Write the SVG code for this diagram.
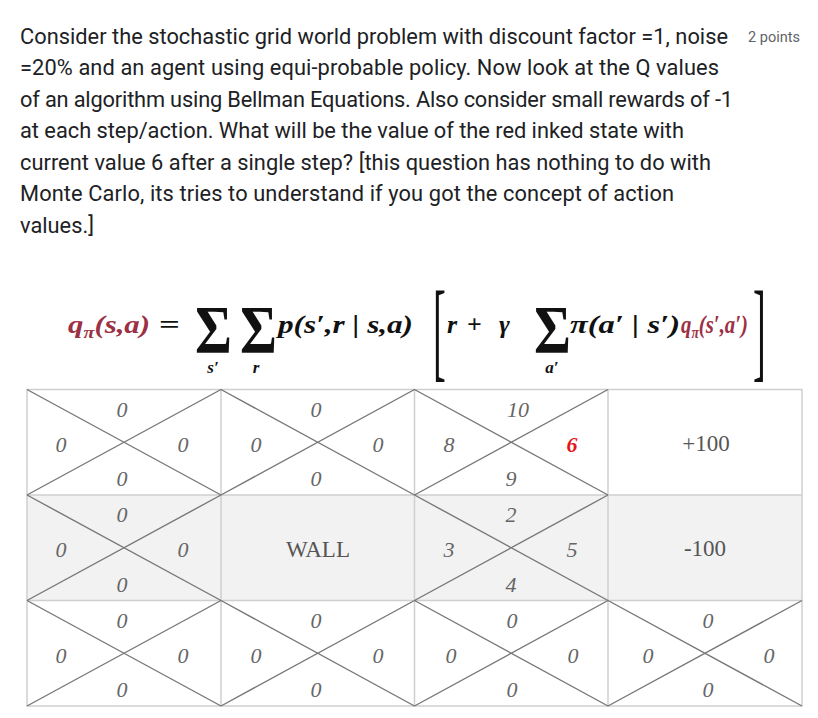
<svg xmlns="http://www.w3.org/2000/svg" width="818" height="718" viewBox="0 0 818 718">
<style>
.q{font-family:"Roboto","Liberation Sans",sans-serif;font-size:21.8px;fill:#202124}
.pts{font-family:"Roboto","Liberation Sans",sans-serif;font-size:14.5px;fill:#5f6368}
.m{font-family:"Liberation Serif","Times New Roman",serif;font-style:italic;font-weight:bold;font-size:26px;fill:#111}
.up{font-style:normal}
.mr{fill:#9c3045}
.sub{font-family:"Liberation Serif","Times New Roman",serif;font-style:italic;font-weight:bold;font-size:17px;fill:#111;text-anchor:middle}
.br{font-family:"Liberation Serif","Times New Roman",serif;font-size:110px;fill:#111}
.v{font-family:"Liberation Serif","Times New Roman",serif;font-style:italic;font-size:22px;fill:#666;text-anchor:middle}
.red{fill:#e8141b;font-weight:bold}
.lbl{font-family:"Liberation Serif","Times New Roman",serif;font-size:23px;fill:#555;text-anchor:middle}
.cell{fill:none;stroke:#cfcfcf;stroke-width:1.5}
.diag{stroke:#777;stroke-width:1.4;fill:none}
</style>
<rect width="818" height="718" fill="#fff"/>
<g id="question">
<text class="q" x="20" y="43.5" textLength="708" lengthAdjust="spacing">Consider the stochastic grid world problem with discount factor =1, noise</text>
<text class="q" x="20" y="75" textLength="699" lengthAdjust="spacing">=20% and an agent using equi-probable policy. Now look at the Q values</text>
<text class="q" x="20" y="106.5" textLength="713" lengthAdjust="spacing">of an algorithm using Bellman Equations. Also consider small rewards of -1</text>
<text class="q" x="20" y="138" textLength="664" lengthAdjust="spacing">at each step/action. What will be the value of the red inked state with</text>
<text class="q" x="20" y="169.5" textLength="691" lengthAdjust="spacing">current value 6 after a single step? [this question has nothing to do with</text>
<text class="q" x="20" y="201" textLength="654" lengthAdjust="spacing">Monte Carlo, its tries to understand if you got the concept of action</text>
<text class="q" x="20" y="232.5">values.]</text>
<text class="pts" x="748" y="42">2 points</text>
</g>
<g id="formula">
<text class="m mr" x="68" y="333" textLength="82" lengthAdjust="spacingAndGlyphs">q<tspan font-size="17" dy="5">π</tspan><tspan dy="-5">(s,a)</tspan></text>
<text class="m up" x="159" y="333" font-size="32" textLength="21" lengthAdjust="spacingAndGlyphs">=</text>
<text transform="translate(195,352) scale(0.83,1)" style="font-family:'Liberation Serif',serif;font-size:68px;font-weight:bold;fill:#111">Σ</text>
<text transform="translate(240,352) scale(0.83,1)" style="font-family:'Liberation Serif',serif;font-size:68px;font-weight:bold;fill:#111">Σ</text>
<text class="sub" x="213" y="373">s′</text>
<text class="sub" x="256" y="373">r</text>
<text class="m" x="278" y="333" textLength="135" lengthAdjust="spacingAndGlyphs">p(s′,r | s,a)</text>
<text class="br" transform="translate(433,367) scale(0.35,1)">[</text>
<text class="m" x="447" y="333">r</text>
<text class="m up" x="467" y="333" font-size="30">+</text>
<text class="m" x="499" y="333">γ</text>
<text transform="translate(534,352) scale(0.83,1)" style="font-family:'Liberation Serif',serif;font-size:68px;font-weight:bold;fill:#111">Σ</text>
<text class="sub" x="552" y="373">a′</text>
<text class="m" x="570" y="333" textLength="110" lengthAdjust="spacingAndGlyphs">π(a′ | s′)</text>
<text class="m mr" x="681" y="333" textLength="67" lengthAdjust="spacingAndGlyphs">q<tspan font-size="17" dy="5">π</tspan><tspan dy="-5">(s′,a′)</tspan></text>
<text class="br" transform="translate(753,367) scale(0.35,1)">]</text>
</g>
<rect x="27" y="495" width="775" height="105.5" fill="#f2f2f2"/>
<g id="grid-lines">
<rect class="cell" x="27" y="389.5" width="775" height="316.5"/>
<line class="cell" x1="221" y1="389.5" x2="221" y2="706"/>
<line class="cell" x1="414.5" y1="389.5" x2="414.5" y2="706"/>
<line class="cell" x1="608" y1="389.5" x2="608" y2="706"/>
<line class="cell" x1="27" y1="495" x2="802" y2="495"/>
<line class="cell" x1="27" y1="600.5" x2="802" y2="600.5"/>
</g>
<g id="connectors">
<path class="diag" d="M27 389.5L221 495M221 389.5L27 495M221 389.5L414.5 495M414.5 389.5L221 495M414.5 389.5L608 495M608 389.5L414.5 495M27 495L221 600.5M221 495L27 600.5M414.5 495L608 600.5M608 495L414.5 600.5M27 600.5L221 706M221 600.5L27 706M221 600.5L414.5 706M414.5 600.5L221 706M414.5 600.5L608 706M608 600.5L414.5 706M608 600.5L802 706M802 600.5L608 706"/>
</g>
<g id="cell-0-0">
<text class="v" x="122" y="416.5">0</text><text class="v" x="61" y="451.5">0</text><text class="v" x="183" y="451.5">0</text><text class="v" x="122" y="486">0</text>
</g>
<g id="cell-0-1">
<text class="v" x="316" y="416.5">0</text><text class="v" x="256" y="451.5">0</text><text class="v" x="378" y="451.5">0</text><text class="v" x="316" y="486">0</text>
</g>
<g id="cell-0-2">
<text class="v" x="518" y="416.5">10</text><text class="v" x="449" y="451.5">8</text><text class="v red" x="572" y="451.5">6</text><text class="v" x="511" y="486">9</text>
</g>
<g id="cell-0-3">
<text class="lbl" x="706" y="451">+100</text>
</g>
<g id="cell-1-0">
<text class="v" x="122" y="522">0</text><text class="v" x="61" y="557">0</text><text class="v" x="183" y="557">0</text><text class="v" x="122" y="591.5">0</text>
</g>
<g id="cell-1-1">
<text class="lbl" x="318" y="556.5">WALL</text>
</g>
<g id="cell-1-2">
<text class="v" x="511" y="522">2</text><text class="v" x="449" y="557">3</text><text class="v" x="572" y="557">5</text><text class="v" x="511" y="591.5">4</text>
</g>
<g id="cell-1-3">
<text class="lbl" x="705" y="556">-100</text>
</g>
<g id="cell-2-0">
<text class="v" x="122" y="627.5">0</text><text class="v" x="61" y="662.5">0</text><text class="v" x="183" y="662.5">0</text><text class="v" x="122" y="697">0</text>
</g>
<g id="cell-2-1">
<text class="v" x="316" y="627.5">0</text><text class="v" x="256" y="662.5">0</text><text class="v" x="378" y="662.5">0</text><text class="v" x="316" y="697">0</text>
</g>
<g id="cell-2-2">
<text class="v" x="512" y="627.5">0</text><text class="v" x="451" y="662.5">0</text><text class="v" x="573" y="662.5">0</text><text class="v" x="512" y="697">0</text>
</g>
<g id="cell-2-3">
<text class="v" x="708" y="627.5">0</text><text class="v" x="648" y="662.5">0</text><text class="v" x="769" y="662.5">0</text><text class="v" x="708" y="697">0</text>
</g>
</svg>
